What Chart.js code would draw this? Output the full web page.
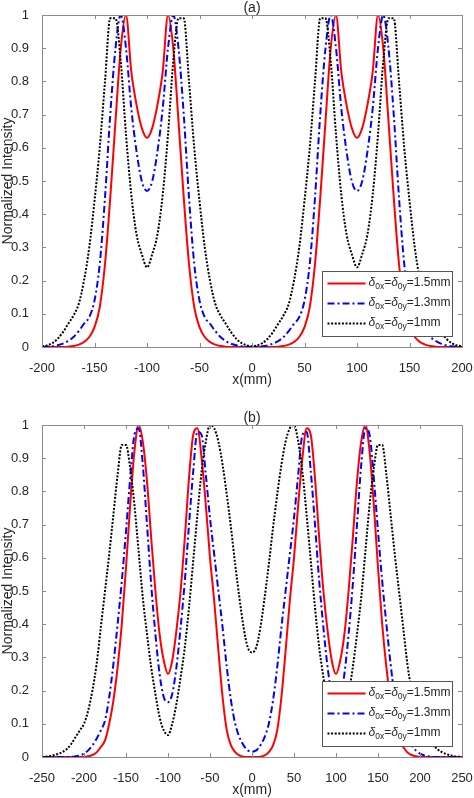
<!DOCTYPE html>
<html>
<head>
<meta charset="utf-8">
<script src="https://cdn.jsdelivr.net/npm/chart.js@4"></script>
<style>
  html, body { margin: 0; padding: 0; background: #fff; }
  #wrapA { position: absolute; left: 0; top: 0; }
  #wrapB { position: absolute; left: 0; top: 400px; }
</style>
</head>
<body>
<div id="wrapA"><canvas id="chartA" width="474" height="400"></canvas></div>
<div id="wrapB"><canvas id="chartB" width="474" height="398"></canvas></div>
<script>
// x positions (mm)
var xA = [-200,-195,-190,-185,-180,-175,-170,-165,-160,-155,-150,-145,-140,-135,-130,-125,-120,-115,-110,-105,-100,
  -95,-90,-85,-80,-75,-70,-65,-60,-55,-50,-45,-40,-35,-30,-25,-20,-15,-10,-5,0,
  5,10,15,20,25,30,35,40,45,50,55,60,65,70,75,80,85,90,95,100,
  105,110,115,120,125,130,135,140,145,150,155,160,165,170,175,180,185,190,195,200];

var xB = [-250,-245,-240,-235,-230,-225,-220,-215,-210,-205,-200,-195,-190,-185,-180,-175,-170,-165,-160,-155,-150,
  -145,-140,-135,-130,-125,-120,-115,-110,-105,-100,-95,-90,-85,-80,-75,-70,-65,-60,-55,-50,
  -45,-40,-35,-30,-25,-20,-15,-10,-5,0,5,10,15,20,25,30,35,40,45,50,
  55,60,65,70,75,80,85,90,95,100,105,110,115,120,125,130,135,140,145,150,
  155,160,165,170,175,180,185,190,195,200,205,210,215,220,225,230,235,240,245,250];

// (a) normalized intensity
var redA = [0,0,0,0,0,0.001,0.003,0.007,0.015,0.03,0.06,0.12,0.25,0.45,0.68,0.9,1.0,0.83,0.73,0.66,0.63,
  0.66,0.73,0.83,1.0,0.9,0.68,0.45,0.25,0.12,0.06,0.03,0.015,0.007,0.003,0.001,0,0,0,0,0,
  0,0,0,0,0.001,0.003,0.007,0.015,0.03,0.06,0.12,0.25,0.45,0.68,0.9,1.0,0.83,0.73,0.66,0.63,
  0.66,0.73,0.83,1.0,0.9,0.68,0.45,0.25,0.12,0.06,0.03,0.015,0.007,0.003,0.001,0,0,0,0,0];

var blueA = [0,0.001,0.002,0.005,0.01,0.018,0.03,0.048,0.07,0.09,0.14,0.25,0.45,0.7,0.9,1.0,0.9,0.72,0.59,0.5,0.47,
  0.5,0.59,0.72,0.9,1.0,0.9,0.7,0.45,0.25,0.14,0.09,0.07,0.048,0.03,0.018,0.01,0.005,0.002,0.001,0,
  0.001,0.002,0.005,0.01,0.018,0.03,0.048,0.07,0.09,0.14,0.25,0.45,0.7,0.9,1.0,0.9,0.72,0.59,0.5,0.47,
  0.5,0.59,0.72,0.9,1.0,0.9,0.7,0.45,0.25,0.14,0.09,0.07,0.048,0.03,0.018,0.01,0.005,0.002,0.001,0];

var blackA = [0.002,0.005,0.012,0.025,0.045,0.07,0.095,0.13,0.2,0.3,0.44,0.6,0.8,0.99,0.99,0.86,0.64,0.46,0.34,0.28,0.24,
  0.28,0.34,0.46,0.64,0.86,0.99,0.99,0.8,0.6,0.44,0.3,0.2,0.13,0.095,0.07,0.045,0.025,0.012,0.005,0.002,
  0.005,0.012,0.025,0.045,0.07,0.095,0.13,0.2,0.3,0.44,0.6,0.8,0.99,0.99,0.86,0.64,0.46,0.34,0.28,0.24,
  0.28,0.34,0.46,0.64,0.86,0.99,0.99,0.8,0.6,0.44,0.3,0.2,0.13,0.095,0.07,0.045,0.025,0.012,0.005,0.002];

// (b) normalized intensity
var redB = [0,0,0,0,0,0,0,0,0,0,0,0.002,0.006,0.014,0.03,0.05,0.1,0.17,0.27,0.4,0.57,
  0.76,0.92,1.0,0.95,0.83,0.66,0.5,0.37,0.29,0.25,0.29,0.38,0.5,0.66,0.84,0.97,0.99,0.9,0.76,0.6,
  0.47,0.32,0.18,0.08,0.035,0.015,0.005,0.001,0,0,0,0.001,0.005,0.015,0.035,0.08,0.18,0.32,0.47,0.6,
  0.76,0.9,0.99,0.97,0.84,0.66,0.5,0.38,0.29,0.25,0.29,0.37,0.5,0.66,0.83,0.95,1.0,0.92,0.76,0.57,
  0.4,0.27,0.17,0.1,0.05,0.03,0.014,0.006,0.002,0,0,0,0,0,0,0,0,0,0,0];

var blueB = [0,0,0,0,0,0,0,0,0.002,0.005,0.01,0.02,0.035,0.055,0.08,0.11,0.18,0.28,0.4,0.53,0.68,
  0.84,0.97,0.99,0.88,0.7,0.52,0.37,0.25,0.18,0.165,0.19,0.27,0.39,0.53,0.7,0.86,0.98,0.97,0.85,0.72,
  0.61,0.5,0.39,0.27,0.17,0.1,0.06,0.035,0.02,0.016,0.02,0.035,0.06,0.1,0.17,0.27,0.39,0.5,0.61,0.72,
  0.85,0.97,0.98,0.86,0.7,0.53,0.39,0.27,0.19,0.165,0.18,0.25,0.37,0.52,0.7,0.88,0.99,0.97,0.84,0.68,
  0.53,0.4,0.28,0.18,0.11,0.08,0.055,0.035,0.02,0.01,0.005,0.002,0,0,0,0,0,0,0,0];

var blackB = [0,0.001,0.003,0.006,0.01,0.016,0.025,0.04,0.06,0.08,0.1,0.14,0.2,0.28,0.39,0.5,0.61,0.73,0.85,0.94,0.94,
  0.87,0.76,0.62,0.48,0.37,0.27,0.19,0.12,0.08,0.066,0.1,0.16,0.24,0.33,0.45,0.59,0.73,0.86,0.95,1.0,
  0.99,0.95,0.88,0.79,0.69,0.58,0.48,0.39,0.33,0.315,0.33,0.39,0.48,0.58,0.69,0.79,0.88,0.95,0.99,1.0,
  0.95,0.86,0.73,0.59,0.45,0.33,0.24,0.16,0.1,0.066,0.08,0.12,0.19,0.27,0.37,0.48,0.62,0.76,0.87,0.94,
  0.94,0.85,0.73,0.61,0.5,0.39,0.28,0.2,0.14,0.1,0.08,0.06,0.04,0.025,0.016,0.01,0.006,0.003,0.001,0];

var legendValues = ['1.5', '1.3', '1'];
var yTicksStep = 0.1;

var textColor = '#262626';
var axisColor = '#8a8a8a';
var fontName = '"Liberation Sans", Arial, sans-serif';

function toPoints(xs, ys) {
  var out = [];
  for (var i = 0; i < xs.length; i++) out.push({ x: xs[i], y: ys[i] });
  return out;
}

// label like  δ0x=δ0y=1.5mm  with italic delta and subscripts
function drawDeltaLabel(ctx, x, y, val) {
  ctx.textBaseline = 'middle';
  ctx.textAlign = 'left';
  var parts = [
    ['italic 12px ' + fontName, '\u03b4', 0],
    ['8.5px ' + fontName, '0x', 4],
    ['12px ' + fontName, '=', 0],
    ['italic 12px ' + fontName, '\u03b4', 0],
    ['8.5px ' + fontName, '0y', 4],
    ['12px ' + fontName, '=' + val + 'mm', 0]
  ];
  parts.forEach(function(p) {
    ctx.font = p[0];
    ctx.fillText(p[1], x, y + p[2]);
    x += ctx.measureText(p[1]).width;
  });
}

var matlabBox = {
  id: 'matlabBox',
  afterDatasetsDraw: function(chart, args, opts) {
    var ctx = chart.ctx, a = chart.chartArea;
    var xs = chart.scales.x, ys = chart.scales.y;
    ctx.save();
    // frame and inward ticks
    ctx.strokeStyle = axisColor;
    ctx.lineWidth = 1;
    ctx.strokeRect(Math.round(a.left) + 0.5, Math.round(a.top) + 0.5,
      Math.round(a.right - a.left), Math.round(a.bottom - a.top));
    ctx.beginPath();
    xs.ticks.forEach(function(t) {
      var px = Math.round(xs.getPixelForValue(t.value)) + 0.5;
      ctx.moveTo(px, a.bottom); ctx.lineTo(px, a.bottom - 4);
      ctx.moveTo(px, a.top); ctx.lineTo(px, a.top + 4);
    });
    ys.ticks.forEach(function(t) {
      var py = Math.round(ys.getPixelForValue(t.value)) + 0.5;
      ctx.moveTo(a.left, py); ctx.lineTo(a.left + 4, py);
      ctx.moveTo(a.right, py); ctx.lineTo(a.right - 4, py);
    });
    ctx.stroke();

    // panel title
    ctx.fillStyle = textColor;
    ctx.font = '14px ' + fontName;
    ctx.textAlign = 'center';
    ctx.textBaseline = 'middle';
    ctx.fillText(opts.label, (a.left + a.right) / 2, a.top - 7);

    // legend box, lower right inside the axes
    var bw = 130, bh = 65;
    var bx = Math.round(a.right - 10 - bw) + 0.5, by = Math.round(a.bottom - 11 - bh) + 0.5;
    ctx.fillStyle = '#fff';
    ctx.fillRect(bx, by, bw, bh);
    ctx.strokeStyle = '#555';
    ctx.strokeRect(bx, by, bw, bh);
    chart.data.datasets.forEach(function(ds, i) {
      var ry = by + 12 + i * 20;
      ctx.beginPath();
      ctx.strokeStyle = ds.borderColor;
      ctx.lineWidth = ds.borderWidth;
      ctx.setLineDash(ds.borderDash || []);
      ctx.moveTo(bx + 5, ry);
      ctx.lineTo(bx + 43, ry);
      ctx.stroke();
      ctx.setLineDash([]);
      ctx.fillStyle = textColor;
      drawDeltaLabel(ctx, bx + 46, ry - 1, legendValues[i]);
    });
    ctx.restore();
  }
};

function makeChart(id, xs, red, blue, black, xmin, xmax, padTop, padBottom, label) {
  var ctx = document.getElementById(id).getContext('2d');
  return new Chart(ctx, {
    type: 'line',
    data: {
      datasets: [
        { data: toPoints(xs, red), borderColor: '#ff0000', borderWidth: 2, order: 3 },
        { data: toPoints(xs, blue), borderColor: '#0000ff', borderWidth: 2, borderDash: [7, 3, 2, 3], order: 2 },
        { data: toPoints(xs, black), borderColor: '#000000', borderWidth: 2, borderDash: [2, 1.6], order: 1 }
      ]
    },
    options: {
      responsive: false,
      animation: false,
      layout: { padding: { left: 0, right: 12, top: padTop, bottom: padBottom } },
      elements: {
        point: { radius: 0 },
        line: { tension: 0, cubicInterpolationMode: 'monotone', fill: false, borderCapStyle: 'butt' }
      },
      plugins: {
        legend: { display: false },
        tooltip: { enabled: false },
        matlabBox: { label: label }
      },
      scales: {
        x: {
          type: 'linear', min: xmin, max: xmax,
          ticks: { stepSize: 50, color: textColor, font: { family: fontName, size: 13 }, padding: 6, maxRotation: 0 },
          grid: { display: false },
          border: { display: false },
          title: { display: true, text: 'x(mm)', color: textColor, font: { family: fontName, size: 14, lineHeight: 1.15 }, padding: { top: 2, bottom: 0 } },
          afterFit: function(scale) {
            scale.height = 41;
            scale.paddingLeft = 0;
            scale.paddingRight = 0;
          }
        },
        y: {
          min: 0, max: 1,
          ticks: {
            stepSize: yTicksStep, color: textColor, font: { family: fontName, size: 13 }, padding: 5,
            callback: function(v) { return String(Math.round(v * 10) / 10); }
          },
          grid: { display: false },
          border: { display: false },
          title: { display: true, text: 'Normalized Intensity', color: textColor, font: { family: fontName, size: 14, lineHeight: 1.15 }, padding: { top: 0, bottom: 0 } },
          afterFit: function(scale) {
            scale.width = 42;
            scale.paddingTop = 0;
            scale.paddingBottom = 0;
          }
        }
      }
    },
    plugins: [matlabBox]
  });
}

makeChart('chartA', xA, redA, blueA, blackA, -200, 200, 15, 12, '(a)');
makeChart('chartB', xB, redB, blueB, blackB, -250, 250, 25, 0, '(b)');
</script>
</body>
</html>
